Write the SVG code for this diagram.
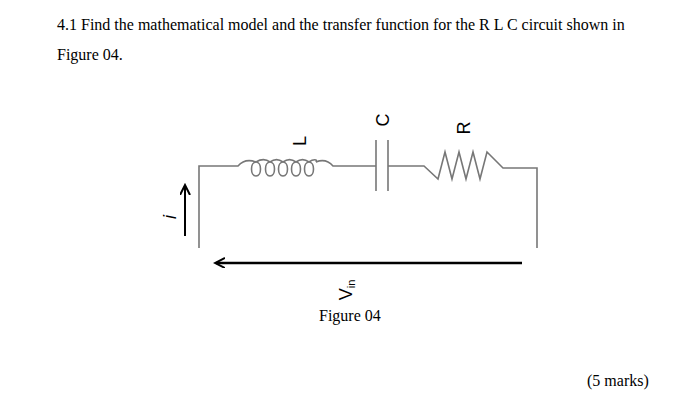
<svg xmlns="http://www.w3.org/2000/svg" width="680" height="418" viewBox="0 0 680 418">
<defs><style>
.t{font-family:"Liberation Serif",serif;font-size:16px;fill:#000}
.w{fill:none;stroke:#777;stroke-width:1.6}
.s{font-family:"Liberation Sans",Arial,sans-serif;font-size:18px;fill:#000}
</style>
<marker id="a" markerWidth="12" markerHeight="12" refX="9" refY="5" orient="auto" markerUnits="userSpaceOnUse"><path d="M0,0 L10,5 L0,10" fill="none" stroke="#000" stroke-width="2"/></marker>
</defs>
<rect width="680" height="418" fill="#fff"/>
<text class="t" x="57" y="30">4.1 Find the mathematical model and the transfer function for the R L C circuit shown in</text>
<text class="t" x="57" y="60">Figure 04.</text>
<g id="wires" class="w">
<path d="M199,248 V166 H238 Q245,158 256,162"/>
<path d="M316,162 Q326,158 333,166 H376"/>
<path d="M388,166 H424 L438,179 L445,152 L452,179 L459,152 L466,179 L473,152 L480,179 L487,152 L503,168 H537 V248"/>
</g>
<g id="L"><path class="w" d="M256,162 c-6,0 -6,14 0,14 c6,0 6,-14 0,-14 c5,-3 10,-3 14,0 c-6,0 -6,14 0,14 c6,0 6,-14 0,-14 c4,-3 9,-3 13,0 c-6,0 -6,14 0,14 c6,0 6,-14 0,-14 c4,-3 9,-3 13,0 c-6,0 -6,14 0,14 c6,0 6,-14 0,-14 c4,-3 9,-3 13,0 c-6,0 -6,14 0,14 c6,0 6,-14 0,-14 c4,-3 9,-3 7,0"/>
<text class="s" transform="translate(306,141) rotate(-90)" text-anchor="middle">L</text></g>
<g id="C"><path class="w" d="M376,140 V191 M388,140 V191"/>
<text class="s" transform="translate(389,120) rotate(-90)" text-anchor="middle">C</text></g>
<g id="R"><text class="s" transform="translate(470,128) rotate(-90)" text-anchor="middle">R</text></g>
<g id="connectors">
<line x1="185" y1="236" x2="185" y2="186" stroke="#000" stroke-width="2" marker-end="url(#a)"/>
<line x1="522" y1="263" x2="216" y2="263" stroke="#000" stroke-width="2.5" marker-end="url(#a)"/>
</g>
<text class="s" transform="translate(176,217) rotate(-90)" text-anchor="middle" style="font-style:italic">i</text>
<text class="s" transform="translate(352,290) rotate(-90)" text-anchor="middle">V<tspan style="font-size:11px" dy="3">in</tspan></text>
<text class="t" x="319" y="321">Figure 04</text>
<text class="t" x="587" y="386">(5 marks)</text>
</svg>
